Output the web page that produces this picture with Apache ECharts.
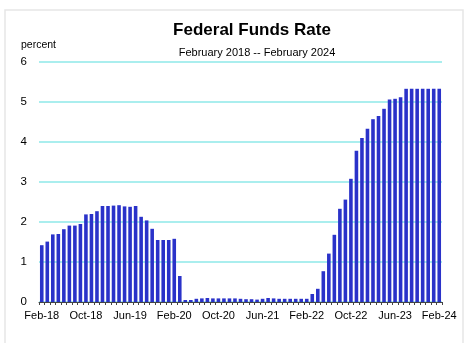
<!DOCTYPE html>
<html><head><meta charset="utf-8">
<script src="https://cdn.jsdelivr.net/npm/echarts@6/dist/echarts.min.js"></script>
<style>html,body{margin:0;padding:0;background:#fff}#c{width:474px;height:343px}</style>
</head><body><div id="c"></div>
<script>
const months = ['Jan','Feb','Mar','Apr','May','Jun','Jul','Aug','Sep','Oct','Nov','Dec'];
const categories = [];
for (let y = 2018; y <= 2024; y++) {
  for (let m = 0; m < 12; m++) {
    if (y === 2018 && m < 1) continue;
    if (y === 2024 && m > 1) continue;
    categories.push(months[m] + '-' + String(y).slice(2));
  }
}
const rates = [
  1.42,1.51,1.69,1.70,1.82,1.91,1.91,1.95,2.19,2.20,2.27,
  2.40,2.40,2.41,2.42,2.39,2.38,2.40,2.13,2.04,1.83,1.55,1.55,
  1.55,1.58,0.65,0.05,0.05,0.08,0.09,0.10,0.09,0.09,0.09,0.09,
  0.09,0.08,0.07,0.07,0.06,0.08,0.10,0.09,0.08,0.08,0.08,0.08,
  0.08,0.08,0.20,0.33,0.77,1.21,1.68,2.33,2.56,3.08,3.78,4.10,
  4.33,4.57,4.65,4.83,5.06,5.08,5.12,5.33,5.33,5.33,5.33,5.33,
  5.33,5.33
];
const yTicks = [0,1,2,3,4,5,6];
const FONT = '"Liberation Sans", Arial, sans-serif';
const chart = echarts.init(document.getElementById('c'), null, {renderer:'canvas'});
chart.setOption({
  animation:false,
  graphic:[{type:'rect',shape:{x:5,y:10,width:458,height:340},style:{fill:'none',stroke:'#e6e6e6',lineWidth:1.5},z:-1}],
  title:[
    {text:'Federal Funds Rate',left:247,top:17,textAlign:'center',textStyle:{fontFamily:FONT,fontSize:17,fontWeight:'bold',color:'#000'}},
    {text:'February 2018 -- February 2024',left:252,top:42,textAlign:'center',textStyle:{fontFamily:FONT,fontSize:11,fontWeight:'normal',color:'#000'}},
    {text:'percent',left:16,top:35,textStyle:{fontFamily:FONT,fontSize:10.5,fontWeight:'normal',color:'#000'}}
  ],
  grid:{left:39,right:32,top:62,bottom:41},
  xAxis:{type:'category',data:categories,boundaryGap:true,
    axisLine:{lineStyle:{color:'#444',width:1}},
    axisTick:{show:true,interval:0,length:3,lineStyle:{color:'#444'}},
    axisLabel:{interval:7,color:'#000',fontFamily:FONT,fontSize:11,margin:8}},
  yAxis:{type:'value',min:0,max:6,interval:1,
    axisLine:{show:false},axisTick:{show:false},
    axisLabel:{color:'#000',fontFamily:FONT,fontSize:11.5,margin:12,formatter:v=>yTicks.includes(v)?String(v):''},
    splitLine:{lineStyle:{color:'#8ee8e8',width:1.5}}},
  series:[{type:'bar',data:rates,barWidth:'65%',itemStyle:{color:'#2a32c9'}}]
});
</script></body></html>
